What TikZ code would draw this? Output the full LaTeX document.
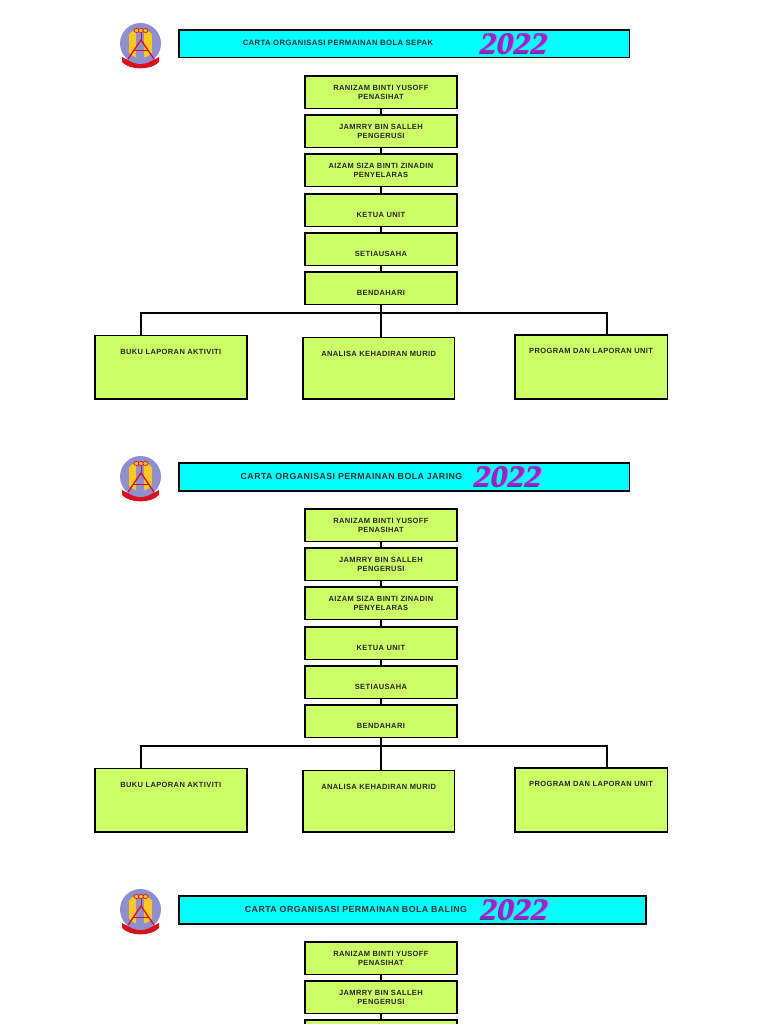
\documentclass[tikz,border=0pt]{standalone}
\usepackage{fontspec}
\setmainfont{Liberation Sans}[LetterSpace=5]
\newfontfamily\yearfont{Liberation Serif}[FakeStretch=1.13]
\definecolor{bannercyan}{HTML}{00FFFF}
\definecolor{boxlime}{HTML}{CCFF66}
\definecolor{logoring}{HTML}{8F8FD0}
\definecolor{logogold}{HTML}{FFC820}
\definecolor{logored}{HTML}{D8101C}
\definecolor{yearpurple}{HTML}{A020D0}
\definecolor{yearlight}{HTML}{D070E0}
\definecolor{yearshadow}{HTML}{3A5070}
\tikzset{
  x=1pt,y=-1pt,
  orgtext/.style={font=\bfseries\fontsize{7.5}{9.2}\selectfont,text=black!85},
  orgbox/.style={draw=black,line width=1.6pt,fill=boxlime,inner sep=0pt,anchor=north west,orgtext},
  staffbox/.style={orgbox,minimum width=152pt,minimum height=32.6pt,align=center},
  lowbox/.style={orgbox,text width=152pt,align=center,text height=23.3pt,text depth=9.3pt},
  leafbox/.style={orgbox,text width=#1,align=center},
  banner/.style={draw=black,line width=1.6pt,fill=bannercyan,inner sep=0pt,anchor=north west,minimum height=27.8pt},
  bannertext/.style={font=\bfseries,text=black!80,inner sep=0pt},
  yeartext/.style={font=\yearfont\bfseries\itshape\fontsize{30}{30}\selectfont,inner sep=0pt},
  link/.style={draw=black,line width=1.6pt},
}
\newcommand{\orglogo}{%
  \fill[logored] (122,57) .. controls (130,63) and (151,63) .. (159,57) -- (159,62) .. controls (151,70.5) and (130,70.5) .. (122,62) -- cycle;
  \fill[logoring] (140.5,43.5) circle (20.5);
  \fill[logogold] (140.5,43.5) circle (14.5);
  \begin{scope}
    \clip (140.5,43.5) circle (14.5);
    \fill[logoring] (136,25) rectangle (144,64);
    \fill[logoring] (125,25) rectangle (129,64);
    \fill[logoring] (152,25) rectangle (156,64);
  \end{scope}
  \draw[logored,line width=.7pt,fill=logogold] (136.5,30.5) ellipse (2.6 and 2);
  \draw[logored,line width=.7pt,fill=logogold] (141,30.5) ellipse (2.6 and 2);
  \draw[logored,line width=.7pt,fill=logogold] (145.5,30.5) ellipse (2.6 and 2);
  \draw[logored,line width=1.3pt,line join=round] (128,59) -- (141,40) -- (154,59);
  \draw[logored,line width=1pt] (133,51) -- (149,51);
  \draw[logored,line width=.8pt] (141,33) -- (141,40);
}
% #1 prefix, #2 shift, #3 banner width, #4 title, #5 title centre, #6 year centre
\newcommand{\orgheader}[6]{%
  \orglogo
  \node[banner,minimum width=#3pt] (#1-banner) at (178.1,29.1) {};
  \node[bannertext] (#1-title) at (#5,43) {#4};
  \node[yeartext,text=yearshadow] (#1-yearshadow) at (#6-0.6,44.6) {2022};
  \node[yeartext,text=yearlight] (#1-yearlight) at (#6+0.9,43.2) {2022};
  \node[yeartext,text=yearpurple] (#1-year) at (#6,43.6) {2022};
  \node[staffbox] (#1-pen) at (304.1,75.2) {RANIZAM BINTI YUSOFF\\PENASIHAT};
  \node[staffbox] (#1-pgr) at (304.1,114.2) {JAMRRY BIN SALLEH\\PENGERUSI};
  \draw[link] (#1-pen) -- (#1-pgr);
}
\newcommand{\orgchart}[6]{%
\begin{scope}[yshift=#2pt]
  \orgheader{#1}{#2}{#3}{#4}{#5}{#6}
  \node[staffbox] (#1-pny) at (304.1,153.2) {AIZAM SIZA BINTI ZINADIN\\PENYELARAS};
  \node[lowbox] (#1-ket) at (304.1,193.2) {KETUA UNIT};
  \node[lowbox] (#1-set) at (304.1,232.2) {SETIAUSAHA};
  \node[lowbox] (#1-ben) at (304.1,271.2) {BENDAHARI};
  \node[leafbox=151.8pt,text height=19pt,text depth=44.4pt] (#1-buku) at (94.1,334.8) {BUKU LAPORAN AKTIVITI};
  \node[leafbox=151.4pt,text height=19pt,text depth=42.4pt] (#1-ana) at (302.1,336.8) {ANALISA KEHADIRAN MURID};
  \node[leafbox=152.4pt,text height=19pt,text depth=44.8pt] (#1-pro) at (514.1,334.1) {PROGRAM DAN LAPORAN UNIT};
  \coordinate (#1-bl) at (141,335);
  \coordinate (#1-bc) at (380,313);
  \coordinate (#1-br) at (607,334);
  \draw[link] (#1-pgr) -- (#1-pny);
  \draw[link] (#1-pny) -- (#1-ket);
  \draw[link] (#1-ket) -- (#1-set);
  \draw[link] (#1-set) -- (#1-ben);
  \draw[link] (#1-ben.south) -- (#1-ben.south |- #1-ana.north);
  \draw[link] (#1-bl) |- (#1-bc) -| (#1-br);
\end{scope}}
\begin{document}
\begin{tikzpicture}
\useasboundingbox (0,0) rectangle (768,1024);
\fill[white] (0,0) rectangle (768,1024);
\clip (0,0) rectangle (768,1024);
\orgchart{a}{0}{450.4}{\fontsize{7.7}{9}\selectfont CARTA ORGANISASI PERMAINAN BOLA SEPAK}{338}{514}
\orgchart{b}{-433}{450.4}{\fontsize{8.8}{10}\selectfont CARTA ORGANISASI PERMAINAN BOLA JARING}{351.5}{508}
\begin{scope}[yshift=-866pt]
  \orgheader{c}{-866}{466.8}{\fontsize{8.8}{10}\selectfont CARTA ORGANISASI PERMAINAN BOLA BALING}{356}{514.5}
  \node[staffbox] (c-pny) at (304.1,153.2) {};
  \draw[link] (c-pgr) -- (c-pny);
\end{scope}
\end{tikzpicture}
\end{document}
